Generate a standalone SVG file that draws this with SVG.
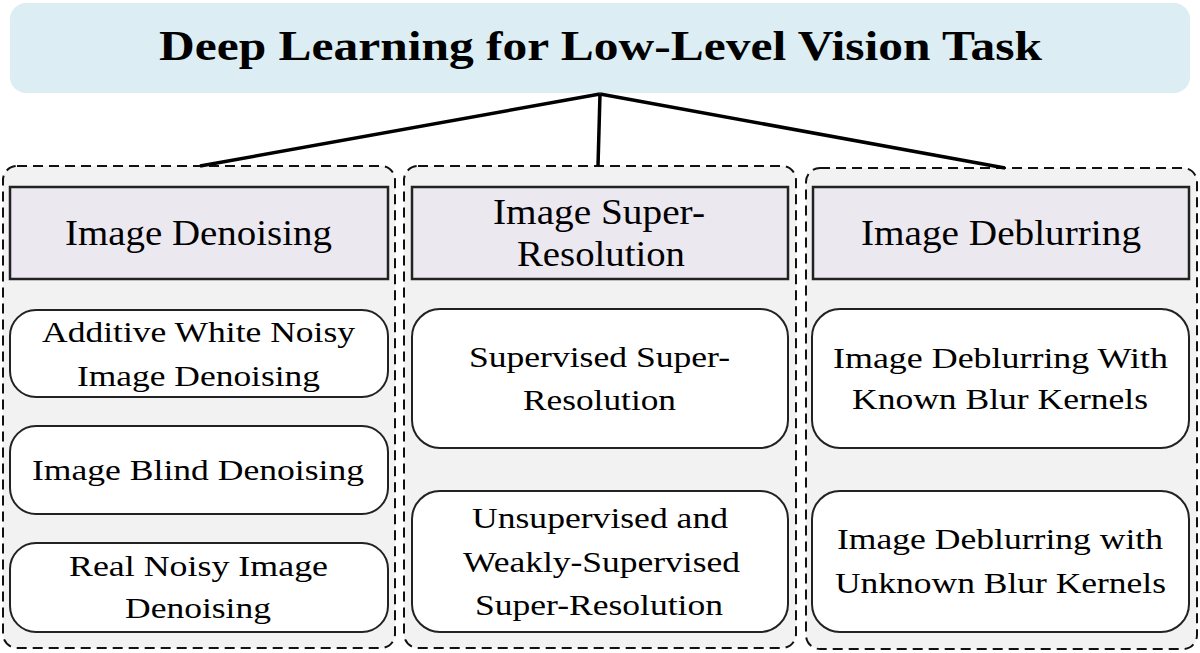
<svg xmlns="http://www.w3.org/2000/svg" width="1200" height="653" viewBox="0 0 1200 653">
<style>
text{font-family:"Liberation Serif","Times New Roman",serif;fill:#000;text-anchor:middle}
.title{font-weight:bold;font-size:42px}
.hd{font-size:36px}
.tx{font-size:30px}
.col{fill:#f2f2f2;stroke:#111;stroke-width:2;stroke-dasharray:10 6}
.hbox{fill:#ebe8f0;stroke:#222;stroke-width:2.5}
.sbox{fill:#fff;stroke:#222;stroke-width:2}
.conn{stroke:#000;stroke-width:3.5;fill:none}
</style>
<rect width="1200" height="653" fill="#fff"/>
<g id="title">
<rect x="10" y="3" width="1180" height="90" rx="16" fill="#dceef4"/>
<text class="title" x="600.5" y="60" textLength="883" lengthAdjust="spacingAndGlyphs">Deep Learning for Low-Level Vision Task</text>
</g>
<g id="col-denoising">
<rect class="col" x="3" y="166" width="392" height="482" rx="14"/>
<rect class="hbox" x="10" y="187" width="378" height="92"/>
<text class="hd" x="198.5" y="245" textLength="267" lengthAdjust="spacingAndGlyphs">Image Denoising</text>
</g>
<g id="col-sr">
<rect class="col" x="404" y="166" width="392" height="482" rx="14"/>
<rect class="hbox" x="412" y="187" width="376" height="92"/>
<text class="hd" x="599" y="224" textLength="212" lengthAdjust="spacingAndGlyphs">Image Super-</text>
<text class="hd" x="601" y="266" textLength="168" lengthAdjust="spacingAndGlyphs">Resolution</text>
</g>
<g id="col-deblur">
<rect class="col" x="806" y="168" width="391" height="481" rx="14"/>
<rect class="hbox" x="813" y="187" width="376" height="92"/>
<text class="hd" x="1001" y="245" textLength="280" lengthAdjust="spacingAndGlyphs">Image Deblurring</text>
</g>
<g id="n-awn">
<rect class="sbox" x="10" y="310" width="378" height="87" rx="26"/>
<text class="tx" x="198.5" y="342" textLength="313" lengthAdjust="spacingAndGlyphs">Additive White Noisy</text>
<text class="tx" x="198.5" y="386" textLength="243" lengthAdjust="spacingAndGlyphs">Image Denoising</text>
</g>
<g id="n-blind">
<rect class="sbox" x="10" y="426" width="378" height="88" rx="26"/>
<text class="tx" x="198" y="480" textLength="332" lengthAdjust="spacingAndGlyphs">Image Blind Denoising</text>
</g>
<g id="n-real">
<rect class="sbox" x="10" y="543" width="378" height="89" rx="26"/>
<text class="tx" x="198.5" y="576" textLength="259" lengthAdjust="spacingAndGlyphs">Real Noisy Image</text>
<text class="tx" x="198" y="618" textLength="146" lengthAdjust="spacingAndGlyphs">Denoising</text>
</g>
<g id="n-sup">
<rect class="sbox" x="412" y="309" width="376" height="139" rx="28"/>
<text class="tx" x="599.5" y="367" textLength="261" lengthAdjust="spacingAndGlyphs">Supervised Super-</text>
<text class="tx" x="599.5" y="410" textLength="153" lengthAdjust="spacingAndGlyphs">Resolution</text>
</g>
<g id="n-unsup">
<rect class="sbox" x="412" y="491" width="376" height="141" rx="28"/>
<text class="tx" x="600" y="528" textLength="256" lengthAdjust="spacingAndGlyphs">Unsupervised and</text>
<text class="tx" x="601.5" y="572" textLength="277" lengthAdjust="spacingAndGlyphs">Weakly-Supervised</text>
<text class="tx" x="599" y="615" textLength="248" lengthAdjust="spacingAndGlyphs">Super-Resolution</text>
</g>
<g id="n-known">
<rect class="sbox" x="812" y="309" width="377" height="139" rx="28"/>
<text class="tx" x="1000.5" y="368" textLength="335" lengthAdjust="spacingAndGlyphs">Image Deblurring With</text>
<text class="tx" x="1000" y="409" textLength="296" lengthAdjust="spacingAndGlyphs">Known Blur Kernels</text>
</g>
<g id="n-unknown">
<rect class="sbox" x="812" y="491" width="377" height="141" rx="28"/>
<text class="tx" x="1000" y="549" textLength="326" lengthAdjust="spacingAndGlyphs">Image Deblurring with</text>
<text class="tx" x="1000.5" y="593" textLength="331" lengthAdjust="spacingAndGlyphs">Unknown Blur Kernels</text>
</g>
<g id="connectors">
<path class="conn" d="M600 94 L200 166"/>
<path class="conn" d="M600 94 L598 166"/>
<path class="conn" d="M600 94 L1005 168"/>
</g>
</svg>
